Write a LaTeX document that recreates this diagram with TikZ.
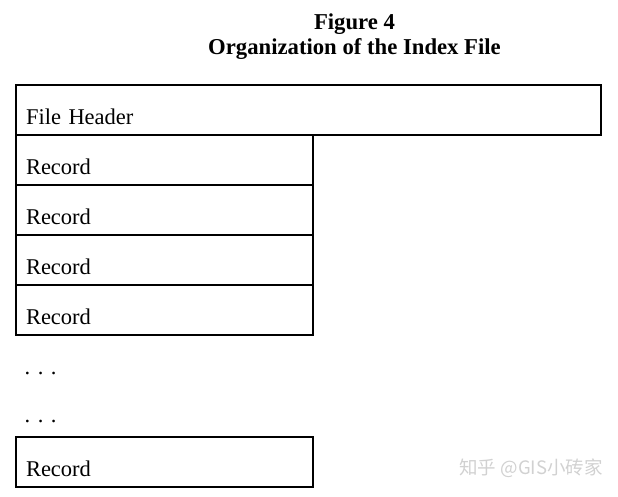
\documentclass[tikz,border=0pt]{standalone}
\usepackage{fontspec}
\setmainfont{Liberation Serif}
\newfontfamily\cjkfont{Noto Sans CJK SC}
\usetikzlibrary{positioning}
\definecolor{zhihugray}{gray}{0.82}
\tikzset{
	filebox/.style={draw, line width=2pt, outer sep=0pt, inner xsep=10pt, inner ysep=0pt,
		text height=39pt, text depth=11pt, align=left, anchor=north west,
		font=\fontsize{22.5}{27}\selectfont},
	headbox/.style={filebox, text width=565pt},
	recbox/.style={filebox, text width=277pt},
	titletext/.style={anchor=base, inner sep=0pt, font=\bfseries\fontsize{22.7}{27}\selectfont},
	moredots/.style={anchor=base west, inner sep=0pt, font=\fontsize{22.5}{27}\selectfont}
}
\begin{document}
\begin{tikzpicture}[x=1pt, y=-1pt]
	\useasboundingbox (0,0) rectangle (618,496);
	\node[titletext] (fig) at (354.5,29.3) {Figure 4};
	\node[titletext] (figname) at (354.5,54.3) {Organization of the Index File};
	
	\node[headbox] (head) at (16,85) {File Header};
	\node[recbox, below=0pt of head.south west, anchor=north west] (rec1) {Record};
	\node[recbox, below=0pt of rec1.south west, anchor=north west] (rec2) {Record};
	\node[recbox, below=0pt of rec2.south west, anchor=north west] (rec3) {Record};
	\node[recbox, below=0pt of rec3.south west, anchor=north west] (rec4) {Record};
	
	\node[moredots] (dots1) at (24.5,374) {.\,\,.\,\,.};
	\node[moredots] (dots2) at (24.5,422) {.\,\,.\,\,.};
	
	\node[recbox] (reclast) at (16,437) {Record};
	
	\node[anchor=east, inner sep=0pt, text=zhihugray, font=\cjkfont\fontsize{18.5}{20}\selectfont] (mark) at (603,468) {知乎 @GIS小砖家};
\end{tikzpicture}
\end{document}
